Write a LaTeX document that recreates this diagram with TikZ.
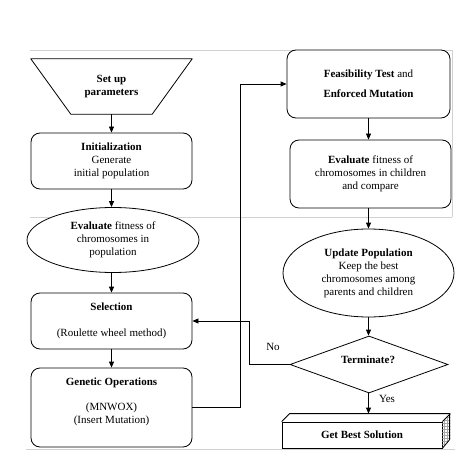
\documentclass[tikz,border=0pt]{standalone}
\usepackage{fontspec}
\setmainfont{Liberation Serif}
\usetikzlibrary{shapes.geometric,arrows.meta,patterns,calc}
\begin{document}
\begin{tikzpicture}[x=1pt,y=-1pt,
  every node/.style={font=\fontsize{11}{13}\selectfont, align=center},
  box/.style={draw, line width=0.8pt, rounded corners=9pt, fill=white, inner sep=0pt},
  oval/.style={draw, ellipse, line width=0.8pt, fill=white, inner sep=0pt},
  arr/.style={-{Triangle[length=6pt,width=5pt]}, line width=0.8pt},
  guide/.style={gray!35, line width=0.6pt}]
\useasboundingbox (0,0) rectangle (474,468);
% faint frame lines
\draw[guide] (30,50) -- (452,50) -- (452,217);
\draw[guide] (30,217) -- (452,217);
\draw[guide] (26,449) -- (455,449);

\node[minimum width=161pt, minimum height=55pt, inner sep=0pt,
  font=\fontsize{11}{13}\selectfont\bfseries] (setup) at (111.5,86.5) {Set up\\parameters};
\draw[line width=0.8pt, line join=round] (setup.north west) -- (setup.north east)
  -- ($(setup.south east)+(-40,0)$) -- ($(setup.south west)+(40,0)$) -- cycle;

\node[box, minimum width=161pt, minimum height=56pt] (init) at (111.5,161)
  {\textbf{Initialization}\\Generate\\initial population};
\node[oval, minimum width=172pt, minimum height=65pt] (eval1) at (113,240)
  {\textbf{Evaluate} fitness of\\chromosomes in\\population};
\node[box, minimum width=161pt, minimum height=56pt] (sel) at (111.5,321)
  {\textbf{Selection}\\[13pt](Roulette wheel method)};
\node[box, minimum width=161pt, minimum height=79pt] (gen) at (111.5,407.5) {};
\node (gentext) at (111.5,402) {\textbf{Genetic Operations}\\[12pt](MNWOX)\\(Insert Mutation)};

\node[box, minimum width=163pt, minimum height=68pt] (feas) at (368.5,84)
  {\textbf{Feasibility Test} and\\[7pt]\textbf{Enforced Mutation}};
\node[box, minimum width=161pt, minimum height=68pt] (eval2) at (370.5,174)
  {\textbf{Evaluate} fitness of\\chromosomes in children\\and compare};
\node[oval, minimum width=171pt, minimum height=88pt] (upd) at (368.5,273)
  {\textbf{Update Population}\\Keep the best\\chromosomes among\\parents and children};
\node[draw, diamond, minimum width=158pt, minimum height=57pt, inner sep=0pt,
  line width=0.8pt, fill=white] (term) at (369,364.5) {};
\node[font=\fontsize{11}{13}\selectfont\bfseries] (termtext) at (368,360) {Terminate?};

\node[draw, line width=0.8pt, fill=white, minimum width=160pt, minimum height=26pt,
  inner sep=0pt] (best) at (362,435) {\textbf{Get Best Solution}};
\coordinate (besttop) at ($(best.north west)+(8,-8)$);
\fill[pattern=grid, pattern color=gray!70] (best.north east) -- ++(8,-8) -- ++(0,26) -- (best.south east) -- cycle;
\draw[line width=0.8pt, line join=round] (best.north west) -- (besttop) -- ++(160,0) -- ++(0,26) -- (best.south east);
\draw[line width=0.8pt] (best.north east) -- ++(8,-8);

% connectors
\draw[arr] (setup.south) -- (init.north);
\draw[arr] (init.south) -- (init.south |- eval1.north);
\draw[arr] (init.south |- eval1.south) -- (sel.north);
\draw[arr] (sel.south) -- (gen.north);
\draw[arr] (gen.east) -- ++(48,0) |- (feas.west);
\draw[arr] (feas.south) -- (feas.south |- eval2.north);
\draw[arr] (feas.south |- eval2.south) -- (feas.south |- upd.north);
\draw[arr] (upd.south) -- (upd.south |- term.north);
\draw[arr] (term.west) -- ++(-40,0) |- (sel.east);
\draw[arr] (upd.south |- term.south) -- (upd.south |- besttop);

\node (no) at (273,347) {No};
\node (yes) at (387,399) {Yes};
\end{tikzpicture}
\end{document}
